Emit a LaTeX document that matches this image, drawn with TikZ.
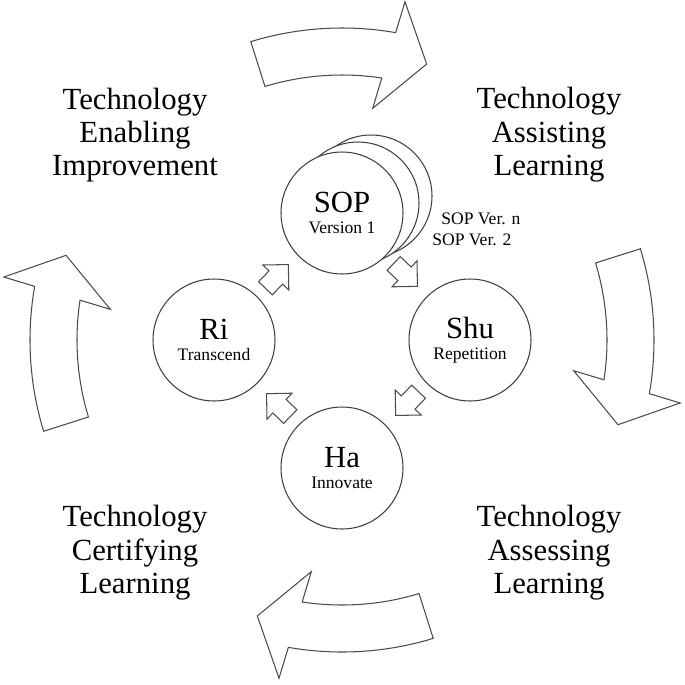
\documentclass[tikz,border=0pt]{standalone}
\usepackage{fontspec}
\setmainfont{Liberation Serif}
\newcommand{\bigtxt}{\fontsize{17.5}{19}\selectfont}
\newcommand{\smalltxt}{\fontsize{10}{12}\selectfont}

\begin{document}
\begin{tikzpicture}[x=0.02cm, y=0.02cm,
    outline/.style={draw=black!70, line width=0.6pt, fill=white},
    stage/.style={circle, draw=black!75, line width=0.6pt, fill=white, minimum size=2.44cm, inner sep=0pt, align=center, font=\bigtxt},
    caption/.style={align=center, font=\bigtxt},
    version/.style={anchor=west, inner sep=0pt, font=\smalltxt}]
    \useasboundingbox (-342,-344) rectangle (343,340);

    % big arrows, clockwise
    \foreach \r in {0,-90,-180,-270} {
        \draw[outline, rotate=\r] (107:312) arc[start angle=107, end angle=80.1, radius=312] -- (79.45:344) -- (72.94:288.7) -- (82.45:233.7) -- (81.36:265) arc[start angle=81.36, end angle=106.9, radius=265] -- cycle;
    }

    % small arrows
    \foreach \a/\b in {46/-44, -44/-134, -134/-224, -224/-314} {
        \draw[outline, shift={(\a:91)}, rotate=\b] (-16,9.5) -- (-1,9.5) -- (-1,18) -- (17,0) -- (-1,-18) -- (-1,-9.5) -- (-16,-9.5) -- cycle;
    }

    % SOP versions
    \node[stage] (sopn) at (29,144) {};
    \node[stage] (sop2) at (16,137) {};
    \node[stage] (sop) at (0,127) {SOP\\[-7pt]\smalltxt Version 1};

    \node[stage] (shu) at (128,0) {Shu\\[-7pt]\smalltxt Repetition};
    \node[stage] (ha) at (0,-128) {Ha\\[-7pt]\smalltxt Innovate};
    \node[stage] (ri) at (-128,0) {Ri\\[-7pt]\smalltxt Transcend};

    \node[version] (vern) at (99,121) {SOP Ver. n};
    \node[version] (ver2) at (90,100) {SOP Ver. 2};

    \node[caption] (enable) at (-207,205) {Technology\\Enabling\\Improvement};
    \node[caption] (assist) at (207,205) {Technology\\Assisting\\Learning};
    \node[caption] (assess) at (207,-213) {Technology\\Assessing\\Learning};
    \node[caption] (certify) at (-207,-213) {Technology\\Certifying\\Learning};
\end{tikzpicture}
\end{document}
